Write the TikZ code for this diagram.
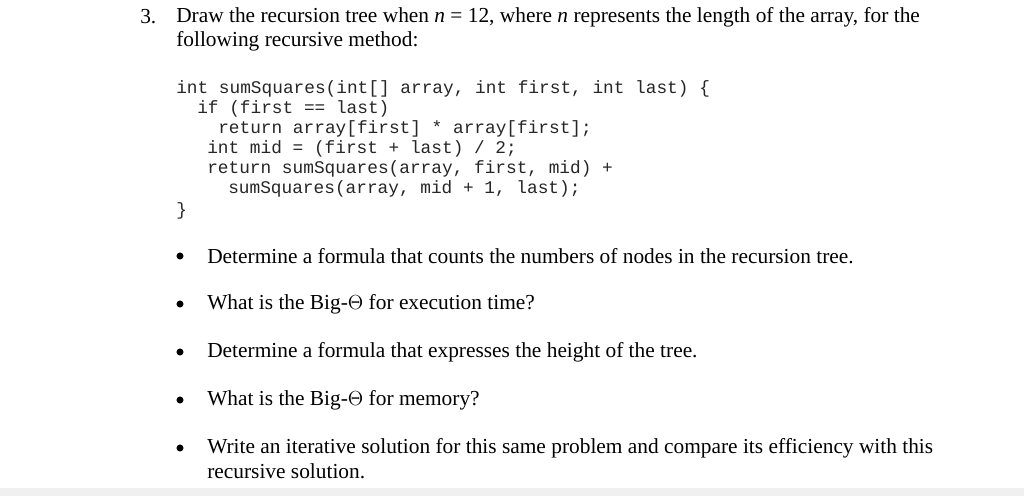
\documentclass[tikz,border=0pt]{standalone}
\usepackage{fontspec}
\setmainfont{Liberation Serif}
\setmonofont{Liberation Mono}
\tikzset{
  prose/.style={anchor=west,inner sep=0pt,font=\fontsize{15.2}{18}\selectfont},
  code/.style={anchor=west,inner sep=0pt,font=\ttfamily\fontsize{12.65}{14}\selectfont,text=black!85},
  dot/.style={circle,fill=black,inner sep=0pt,minimum size=5pt}
}
\begin{document}
\begin{tikzpicture}[x=0.025cm,y=-0.025cm]
\useasboundingbox (0,0) rectangle (1024,496);
\fill[black!6] (0,488) rectangle (1024,496);

% question
\node (num)   [prose] at (140,17) {3.};
\node (qone)  [prose] at (176,17) {Draw the recursion tree when \textit{n} = 12, where \textit{n} represents the length of the array, for the};
\node (qtwo)  [prose] at (176,41) {following recursive method:};

% method
\node (cone)   [code] at (176,89)  {int sumSquares(int[] array, int first, int last) \{};
\node (ctwo)   [code] at (197,109) {if (first == last)};
\node (cthree) [code] at (218,129) {return array[first] * array[first];};
\node (cfour)  [code] at (207,149) {int mid = (first + last) / 2;};
\node (cfive)  [code] at (207,169) {return sumSquares(array, first, mid) +};
\node (csix)   [code] at (228,189) {sumSquares(array, mid + 1, last);};
\node (cend)   [code] at (176,211) {\}};

% tasks
\foreach \y/\name/\txt in {
  256/tone/{Determine a formula that counts the numbers of nodes in the recursion tree.},
  304/ttwo/{What is the Big-$\Theta$ for execution time?},
  352/tthree/{Determine a formula that expresses the height of the tree.},
  400/tfour/{What is the Big-$\Theta$ for memory?},
  448/tfive/{Write an iterative solution for this same problem and compare its efficiency with this}}
{
  \node (b\name) [dot] at (180,\y) {};
  \node (\name) [prose] at (207,\y) {\txt};
}
\node (tsix) [prose] at (207,471) {recursive solution.};
\end{tikzpicture}
\end{document}
